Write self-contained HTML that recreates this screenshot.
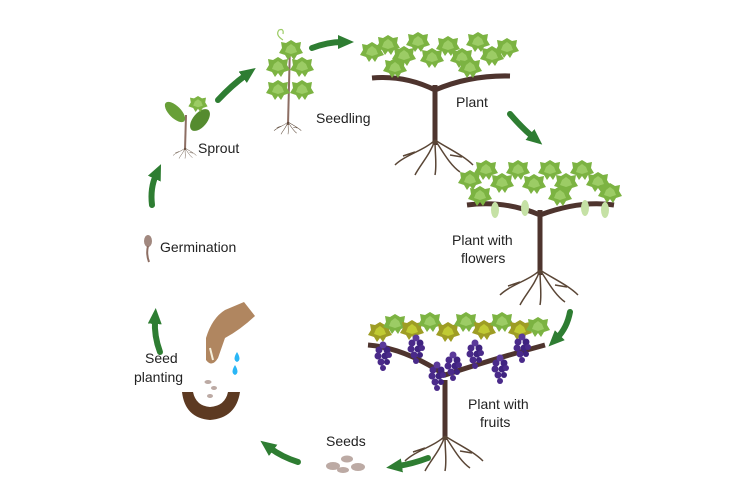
<!DOCTYPE html>
<html><head><meta charset="utf-8"><style>
html,body{margin:0;padding:0;background:#fff;width:750px;height:500px;overflow:hidden}
text{font-family:"Liberation Sans",sans-serif;font-size:14px;fill:#222}
</style></head><body>
<svg width="750" height="500" viewBox="0 0 750 500" xmlns="http://www.w3.org/2000/svg">
<defs>
<marker id="ah" markerWidth="16" markerHeight="14" refX="4" refY="7" orient="auto" markerUnits="userSpaceOnUse">
<path d="M0,0 L16,7 L0,14 z" fill="#2e7d32"/></marker>
<g id="leaf"><path d="M0,-10 L5,-7 L10,-8 L9,-2 L12,3 L6,5 L3,10 L0,6 L-3,10 L-6,5 L-12,3 L-9,-2 L-10,-8 L-5,-7 Z" fill="#7cb342"/><path d="M0,-6 L4,-3 L6,2 L0,4 L-6,2 L-4,-3 Z" fill="#9ccc65"/></g>
<g id="leafy"><path d="M0,-10 L5,-7 L10,-8 L9,-2 L12,3 L6,5 L3,10 L0,6 L-3,10 L-6,5 L-12,3 L-9,-2 L-10,-8 L-5,-7 Z" fill="#9e9d24"/><path d="M0,-6 L4,-3 L6,2 L0,4 L-6,2 L-4,-3 Z" fill="#c0ca33"/></g>
<g id="grape"><circle cx="-4" cy="0" r="3.5" fill="#4a2a8a"/><circle cx="4" cy="0" r="3.5" fill="#3f2380"/><circle cx="0" cy="-5" r="3.5" fill="#5b3a9a"/><circle cx="-5" cy="6" r="3.5" fill="#4a2a8a"/><circle cx="2" cy="6" r="3.5" fill="#3f2380"/><circle cx="6" cy="5" r="3" fill="#4a2a8a"/><circle cx="-2" cy="12" r="3.5" fill="#4a2a8a"/><circle cx="4" cy="12" r="3" fill="#3f2380"/><circle cx="0" cy="18" r="3" fill="#4a2a8a"/></g>
<g id="roots" stroke="#5a4636" stroke-width="1.5" fill="none"><path d="M0,0 C-10,10 -30,15 -40,25 M0,0 C-5,15 -15,25 -20,35 M0,0 C0,15 2,25 0,35 M0,0 C8,12 15,25 25,32 M0,0 C12,8 28,15 38,25 M-20,12 l-12,4 M15,15 l12,2"/></g>
</defs>
<g fill="none" stroke="#2e7d32" stroke-width="6" stroke-linecap="round" marker-end="url(#ah)">
<path d="M152,205 Q150,188 156,175"/>
<path d="M218,100 Q232,85 246,75"/>
<path d="M312,48 Q328,42 342,42"/>
<path d="M510,114 Q522,128 533,137"/>
<path d="M570,312 Q567,328 557,338"/>
<path d="M428,458 Q412,464 398,466"/>
<path d="M298,462 Q282,457 270,448"/>
<path d="M160,352 Q154,336 155,320"/>
</g>
<!-- plant 1 -->
<g stroke="#4e342e" stroke-width="5" fill="none"><path d="M435,145 L435,85 M372,78 Q405,75 435,90 Q470,75 510,76"/></g>
<use href="#roots" x="435" y="140"/>
<g>
<use href="#leaf" x="372" y="52"/><use href="#leaf" x="388" y="45"/><use href="#leaf" x="404" y="56"/><use href="#leaf" x="418" y="42"/><use href="#leaf" x="432" y="58"/><use href="#leaf" x="448" y="46"/><use href="#leaf" x="462" y="58"/><use href="#leaf" x="478" y="42"/><use href="#leaf" x="492" y="56"/><use href="#leaf" x="507" y="48"/><use href="#leaf" x="395" y="68"/><use href="#leaf" x="470" y="68"/>
</g>
<!-- plant 2 -->
<g stroke="#4e342e" stroke-width="5" fill="none"><path d="M540,275 L540,210 M467,205 Q505,200 540,215 Q580,200 614,205"/></g>
<use href="#roots" x="540" y="270"/>
<g>
<use href="#leaf" x="470" y="180"/><use href="#leaf" x="486" y="170"/><use href="#leaf" x="502" y="183"/><use href="#leaf" x="518" y="170"/><use href="#leaf" x="534" y="184"/><use href="#leaf" x="550" y="170"/><use href="#leaf" x="566" y="183"/><use href="#leaf" x="582" y="170"/><use href="#leaf" x="598" y="182"/><use href="#leaf" x="610" y="193"/><use href="#leaf" x="480" y="196"/><use href="#leaf" x="560" y="196"/>
<g fill="#c5e1a5"><ellipse cx="495" cy="210" rx="4" ry="8"/><ellipse cx="525" cy="208" rx="4" ry="8"/><ellipse cx="585" cy="208" rx="4" ry="8"/><ellipse cx="605" cy="210" rx="4" ry="8"/></g>
</g>
<!-- plant 3 -->
<g stroke="#4e342e" stroke-width="5" fill="none"><path d="M445,440 L445,380 M368,345 Q405,348 445,375 Q490,360 545,345"/></g>
<use href="#roots" x="445" y="436"/>
<g>
<use href="#leafy" x="380" y="332"/><use href="#leaf" x="395" y="324"/><use href="#leafy" x="412" y="330"/><use href="#leaf" x="430" y="322"/><use href="#leafy" x="448" y="332"/><use href="#leaf" x="466" y="322"/><use href="#leafy" x="484" y="330"/><use href="#leaf" x="502" y="322"/><use href="#leafy" x="520" y="330"/><use href="#leaf" x="538" y="327"/>
<use href="#grape" x="383" y="350"/><use href="#grape" x="416" y="343"/><use href="#grape" x="437" y="370"/><use href="#grape" x="453" y="360"/><use href="#grape" x="475" y="348"/><use href="#grape" x="500" y="363"/><use href="#grape" x="522" y="342"/>
</g>
<!-- seedling -->
<path d="M290,45 L288,125" stroke="#8d6e63" stroke-width="2" fill="none"/>
<use href="#roots" x="288" y="122" transform="translate(288,122) scale(0.35) translate(-288,-122)"/>
<use href="#leaf" x="291" y="50"/><use href="#leaf" x="278" y="67"/><use href="#leaf" x="302" y="67"/><use href="#leaf" x="278" y="90"/><use href="#leaf" x="302" y="90"/>
<path d="M283,40 q-8,-5 -4,-10 q5,-2 4,4" stroke="#9ccc65" stroke-width="1.2" fill="none"/>
<!-- sprout -->
<path d="M186,115 L185,150" stroke="#8d6e63" stroke-width="2"/>
<use href="#roots" x="185" y="148" transform="translate(185,148) scale(0.3) translate(-185,-148)"/>
<ellipse cx="175" cy="112" rx="13" ry="6" fill="#689f38" transform="rotate(45 175 112)"/>
<ellipse cx="200" cy="120" rx="13" ry="7" fill="#558b2f" transform="rotate(-50 200 120)"/>
<use href="#leaf" x="198" y="104" transform="translate(198,104) scale(0.8) translate(-198,-104)"/>
<!-- germination -->
<ellipse cx="148" cy="241" rx="4" ry="6" fill="#a1887f"/><path d="M148,246 Q146,254 149,262" stroke="#8d6e63" stroke-width="2" fill="none"/>
<!-- hand -->
<path d="M244,302 L255,316 Q240,330 225,338 L218,358 Q212,368 206,360 L206,338 Q212,318 225,310 Z" fill="#b08660"/>
<path d="M210,348 L213,360" stroke="#f5f0dc" stroke-width="2"/>
<path d="M237,352 q-5,8 0,10 q5,-2 0,-10z M235,365 q-5,8 0,10 q5,-2 0,-10z" fill="#29b6f6"/>
<ellipse cx="208" cy="382" rx="3.5" ry="2" fill="#bcaaa4"/><ellipse cx="214" cy="388" rx="3" ry="2" fill="#bcaaa4"/><ellipse cx="210" cy="396" rx="3" ry="2" fill="#bcaaa4"/>
<path d="M182,392 Q185,418 210,420 Q236,418 240,392 L228,392 Q225,406 210,407 Q196,406 193,392 Z" fill="#5d3a22"/>
<!-- seeds -->
<g fill="#bcaaa4"><ellipse cx="333" cy="466" rx="7" ry="4"/><ellipse cx="347" cy="459" rx="6" ry="3.5"/><ellipse cx="358" cy="467" rx="7" ry="4"/><ellipse cx="343" cy="470" rx="6" ry="3"/></g>
<!-- labels -->
<text x="198" y="153">Sprout</text>
<text x="316" y="123">Seedling</text>
<text x="456" y="107">Plant</text>
<text x="452" y="245">Plant with</text>
<text x="461" y="263">flowers</text>
<text x="160" y="252">Germination</text>
<text x="145" y="363">Seed</text>
<text x="134" y="382">planting</text>
<text x="468" y="409">Plant with</text>
<text x="480" y="427">fruits</text>
<text x="326" y="446">Seeds</text>
</svg>
</body></html>
